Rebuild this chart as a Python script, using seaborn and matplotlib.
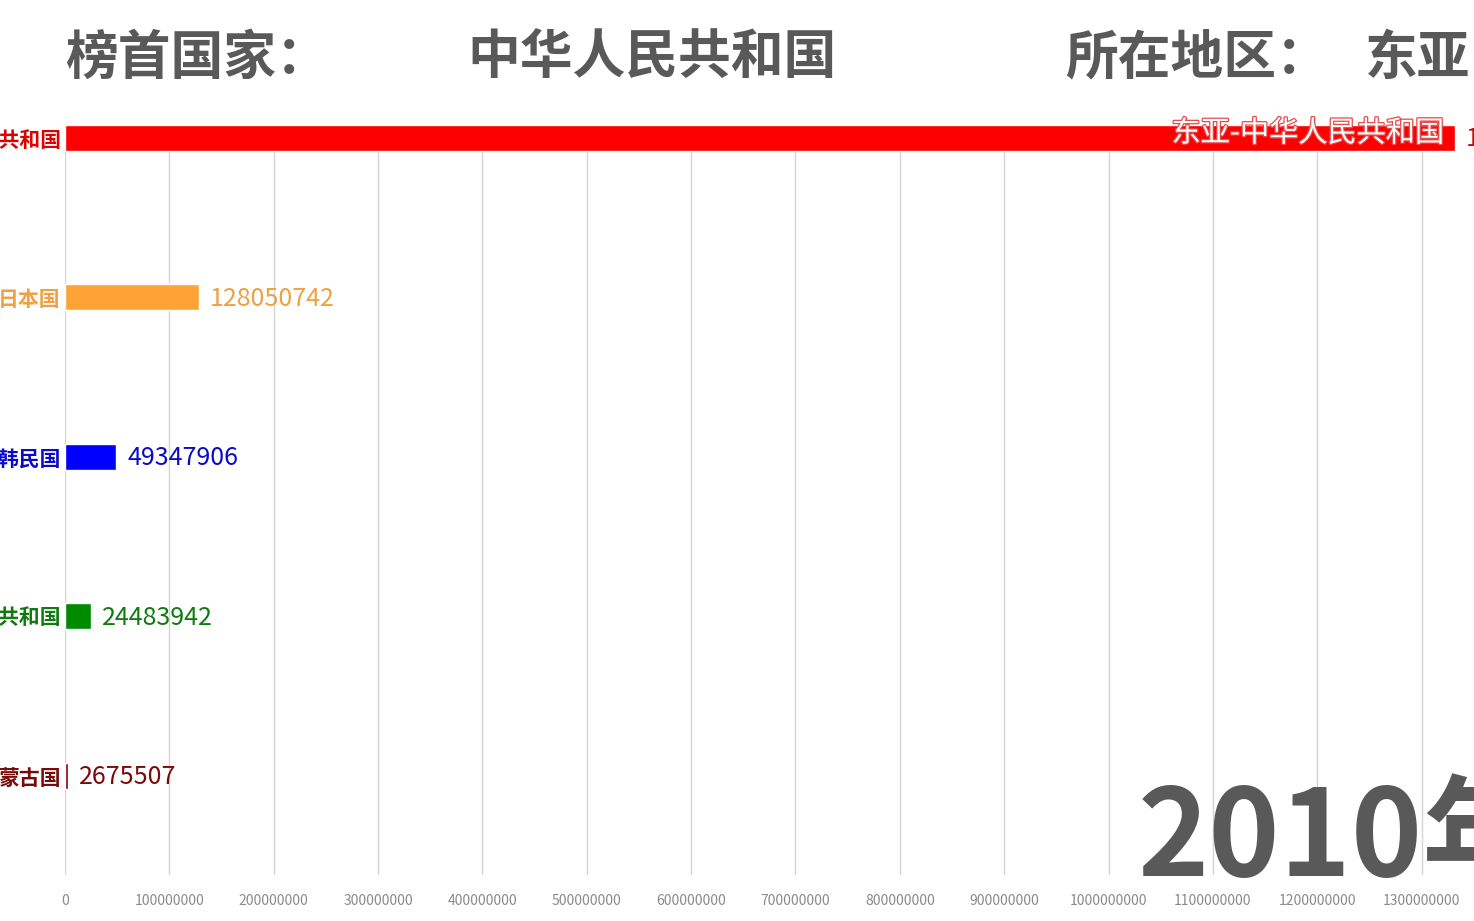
import matplotlib
matplotlib.use('Agg')
from matplotlib import pyplot as plt
from matplotlib import patheffects
import seaborn as sns
import pandas as pd

# 2010 frame of the East Asia population race
countries = ['中华人民共和国', '日本国', '大韩民国', '朝鲜民主主义人民共和国', '蒙古国']
population = [1332000000, 128050742, 49347906, 24483942, 2675507]
bar_colors = ['#ff0000', '#ffa336', '#0000ff', '#008a00', '#7a0000']
text_colors = ['#e00000', '#f0a040', '#0a0ac8', '#117a11', '#7a0a0a']
region = '东亚'
year_label = '2010年'
x_ticks = [i * 100000000 for i in range(14)]

df = pd.DataFrame({'country': countries, 'population': population})

sns.set_theme(style='white')
plt.rcParams['font.family'] = ['Noto Sans CJK SC', 'DejaVu Sans']

fig = plt.figure(figsize=(14.74, 9.21), dpi=100)
ax = fig.add_axes([65 / 1474, 46 / 921, 1 - 65 / 1474, (875 - 125) / 921])

sns.barplot(data=df, x='population', y='country', hue='country',
            palette=bar_colors, width=0.163, legend=False, ax=ax,
            saturation=1)

ax.set_xlim(0, 1.3502e9)
ax.set_ylim(4.62, -0.08)
ax.set_xticks(x_ticks)
ax.set_xticklabels([str(t) for t in x_ticks], color='#8a8a8a', fontsize=10)
ax.tick_params(axis='x', length=0, pad=14)
ax.tick_params(axis='y', length=0, pad=3)
ax.set_yticks(range(len(countries)))
ax.set_yticklabels(countries, fontsize=15, fontweight='bold')
for lbl, c in zip(ax.get_yticklabels(), text_colors):
    lbl.set_color(c)
ax.set_xlabel('')
ax.set_ylabel('')
ax.grid(axis='x', color='#d4d4d4', linewidth=1)
ax.grid(axis='y', visible=False)
ax.set_axisbelow(True)
for s in ax.spines.values():
    s.set_visible(False)

# value labels at the end of each bar
for i, (v, c) in enumerate(zip(population, text_colors)):
    ax.annotate(str(v), xy=(v, i), xytext=(8, -1), textcoords='offset points',
                va='center', ha='left', fontsize=18, color=c, clip_on=False)

# region-country label inside the leading bar
ax.annotate(f'{region}-{countries[0]}', xy=(population[0], 0), xytext=(-8, 3),
            textcoords='offset points', va='center', ha='right', fontsize=21,
            fontweight='medium', color='white',
            path_effects=[patheffects.withStroke(linewidth=1.8, foreground='#e84a4a')])

# header
head = dict(fontsize=38, fontweight='bold', color='#595959', va='center')
fig.text(65 / 1474, 1 - 58 / 921, '榜首国家：', **head)
fig.text(467 / 1474, 1 - 58 / 921, countries[0], **head)
fig.text(1065 / 1474, 1 - 58 / 921, '所在地区：', **head)
fig.text(1365 / 1474, 1 - 58 / 921, region, **head)

# year
fig.text(1138 / 1474, 1 - 876 / 921, year_label, fontsize=87, fontweight='bold',
         color='#595959', va='baseline', ha='left')

fig.savefig('out.png', dpi=100)
